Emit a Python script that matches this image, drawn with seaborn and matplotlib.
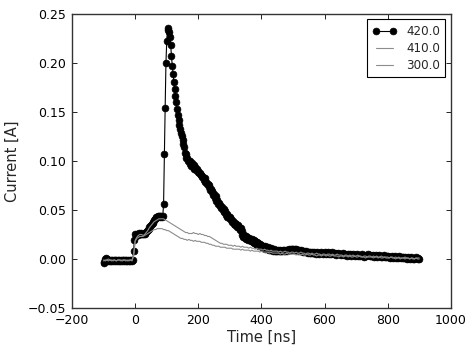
import numpy as np
import pandas as pd
import matplotlib
matplotlib.use("Agg")
import matplotlib.pyplot as plt
import seaborn as sns

# Sampling grids [ns]
time_fine = np.arange(-100, 900.1, 2.5)    # 420.0 trace
time_coarse = np.arange(-100, 900.1, 5.0)  # 410.0 and 300.0 traces

# Current [A], 420.0 (rows of 20 samples = 50 ns, first row starts at -100 ns)
current_420 = [
    -0.004, -0.003, 0.000, 0.001, 0.000, -0.001, -0.002, -0.001, -0.002, -0.001,
    -0.002, -0.001, -0.002, -0.001, -0.001, -0.002, -0.001, -0.002, -0.001, -0.002,
    -0.001, -0.002, -0.001, -0.002, -0.001, -0.001, -0.002, -0.001, -0.002, -0.001,
    -0.002, -0.001, -0.002, -0.001, -0.002, -0.001, -0.002, -0.001, 0.008, 0.019,
    0.025, 0.023, 0.025, 0.024, 0.026, 0.027, 0.026, 0.027, 0.026, 0.025,
    0.026, 0.025, 0.026, 0.027, 0.028, 0.029, 0.030, 0.031, 0.033, 0.034,
    0.035, 0.036, 0.037, 0.038, 0.040, 0.041, 0.042, 0.043, 0.043, 0.044,
    0.044, 0.043, 0.044, 0.044, 0.043, 0.044, 0.056, 0.107, 0.154, 0.200,
    0.222, 0.234, 0.236, 0.232, 0.226, 0.218, 0.207, 0.197, 0.189, 0.181,
    0.173, 0.166, 0.160, 0.153, 0.147, 0.142, 0.137, 0.133, 0.129, 0.125,
    0.121, 0.117, 0.114, 0.108, 0.107, 0.103, 0.103, 0.100, 0.100, 0.097,
    0.100, 0.095, 0.098, 0.094, 0.096, 0.092, 0.094, 0.091, 0.092, 0.089,
    0.090, 0.088, 0.088, 0.086, 0.086, 0.084, 0.084, 0.081, 0.083, 0.079,
    0.079, 0.076, 0.077, 0.073, 0.075, 0.070, 0.071, 0.068, 0.069, 0.065,
    0.066, 0.062, 0.064, 0.059, 0.060, 0.056, 0.057, 0.054, 0.055, 0.052,
    0.053, 0.050, 0.051, 0.048, 0.049, 0.045, 0.046, 0.043, 0.044, 0.042,
    0.043, 0.040, 0.041, 0.038, 0.039, 0.036, 0.037, 0.035, 0.036, 0.033,
    0.035, 0.032, 0.033, 0.030, 0.032, 0.029, 0.024, 0.022, 0.024, 0.021,
    0.023, 0.020, 0.022, 0.019, 0.021, 0.019, 0.020, 0.018, 0.020, 0.017,
    0.019, 0.016, 0.018, 0.015, 0.017, 0.014, 0.016, 0.013, 0.015, 0.013,
    0.014, 0.012, 0.013, 0.011, 0.013, 0.010, 0.012, 0.010, 0.012, 0.009,
    0.011, 0.009, 0.011, 0.009, 0.010, 0.008, 0.010, 0.008, 0.009, 0.008,
    0.008, 0.009, 0.008, 0.008, 0.009, 0.008, 0.008, 0.009, 0.008, 0.009,
    0.008, 0.009, 0.009, 0.008, 0.009, 0.010, 0.009, 0.010, 0.009, 0.010,
    0.010, 0.009, 0.010, 0.009, 0.010, 0.009, 0.009, 0.008, 0.009, 0.008,
    0.009, 0.008, 0.008, 0.007, 0.008, 0.007, 0.008, 0.007, 0.007, 0.006,
    0.007, 0.006, 0.007, 0.006, 0.007, 0.006, 0.006, 0.007, 0.006, 0.005,
    0.006, 0.007, 0.006, 0.005, 0.006, 0.007, 0.006, 0.006, 0.005, 0.006,
    0.007, 0.006, 0.005, 0.006, 0.007, 0.006, 0.005, 0.006, 0.005, 0.006,
    0.007, 0.006, 0.005, 0.006, 0.005, 0.004, 0.005, 0.006, 0.005, 0.005,
    0.005, 0.004, 0.005, 0.006, 0.005, 0.004, 0.005, 0.004, 0.003, 0.004,
    0.005, 0.004, 0.005, 0.004, 0.003, 0.004, 0.005, 0.004, 0.004, 0.003,
    0.004, 0.005, 0.004, 0.003, 0.004, 0.003, 0.004, 0.005, 0.004, 0.003,
    0.002, 0.003, 0.004, 0.003, 0.004, 0.005, 0.004, 0.003, 0.004, 0.003,
    0.003, 0.004, 0.003, 0.002, 0.003, 0.004, 0.003, 0.002, 0.003, 0.004,
    0.003, 0.002, 0.003, 0.002, 0.003, 0.004, 0.003, 0.002, 0.002, 0.003,
    0.002, 0.003, 0.002, 0.001, 0.002, 0.003, 0.002, 0.001, 0.002, 0.003,
    0.002, 0.001, 0.002, 0.001, 0.002, 0.003, 0.002, 0.001, 0.002, 0.001,
    0.002, 0.001, 0.002, 0.001, 0.000, 0.001, 0.002, 0.001, 0.000, 0.001,
    0.002, 0.001, 0.000, 0.001, 0.000, 0.001, 0.002, 0.001, 0.000, 0.001,
    0.000,
]

# Current [A], 410.0 (rows of 10 samples = 50 ns)
current_410 = [
    -0.001, -0.002, -0.001, 0.000, -0.001, -0.002, -0.001, -0.001, -0.002, -0.001,
    -0.001, -0.002, -0.001, -0.001, -0.002, -0.001, -0.002, -0.001, -0.001, 0.004,
    0.019, 0.022, 0.024, 0.025, 0.025, 0.024, 0.025, 0.027, 0.029, 0.032,
    0.034, 0.036, 0.038, 0.039, 0.040, 0.041, 0.041, 0.041, 0.041, 0.040,
    0.039, 0.038, 0.037, 0.036, 0.035, 0.034, 0.033, 0.032, 0.031, 0.030,
    0.029, 0.028, 0.027, 0.027, 0.026, 0.026, 0.026, 0.027, 0.026, 0.026,
    0.025, 0.026, 0.025, 0.025, 0.024, 0.024, 0.023, 0.023, 0.022, 0.021,
    0.020, 0.019, 0.018, 0.017, 0.016, 0.016, 0.015, 0.015, 0.015, 0.014,
    0.014, 0.014, 0.013, 0.014, 0.013, 0.013, 0.013, 0.012, 0.013, 0.012,
    0.012, 0.012, 0.011, 0.012, 0.011, 0.011, 0.010, 0.011, 0.010, 0.010,
    0.010, 0.009, 0.010, 0.009, 0.009, 0.008, 0.009, 0.008, 0.008, 0.008,
    0.008, 0.007, 0.008, 0.007, 0.007, 0.008, 0.007, 0.007, 0.006, 0.007,
    0.007, 0.006, 0.007, 0.006, 0.006, 0.007, 0.006, 0.006, 0.005, 0.006,
    0.006, 0.005, 0.006, 0.005, 0.005, 0.006, 0.005, 0.005, 0.004, 0.005,
    0.005, 0.004, 0.005, 0.005, 0.004, 0.005, 0.004, 0.004, 0.005, 0.004,
    0.004, 0.004, 0.003, 0.004, 0.004, 0.003, 0.004, 0.003, 0.004, 0.003,
    0.003, 0.004, 0.003, 0.003, 0.002, 0.003, 0.003, 0.002, 0.003, 0.003,
    0.002, 0.003, 0.002, 0.003, 0.002, 0.002, 0.003, 0.002, 0.002, 0.002,
    0.002, 0.001, 0.002, 0.002, 0.001, 0.002, 0.001, 0.002, 0.001, 0.001,
    0.001, 0.002, 0.001, 0.001, 0.000, 0.001, 0.001, 0.000, 0.001, 0.001,
    0.001,
]

# Current [A], 300.0 (rows of 10 samples = 50 ns)
current_300 = [
    -0.002, -0.001, -0.001, -0.002, -0.001, -0.001, -0.002, -0.001, -0.002, -0.001,
    -0.001, -0.001, -0.002, -0.001, -0.001, -0.002, -0.001, -0.001, -0.002, 0.003,
    0.018, 0.021, 0.022, 0.023, 0.023, 0.023, 0.024, 0.025, 0.026, 0.027,
    0.028, 0.029, 0.030, 0.030, 0.031, 0.031, 0.031, 0.031, 0.030, 0.030,
    0.029, 0.029, 0.028, 0.027, 0.026, 0.025, 0.024, 0.023, 0.022, 0.021,
    0.021, 0.020, 0.020, 0.019, 0.020, 0.019, 0.019, 0.018, 0.019, 0.018,
    0.018, 0.018, 0.017, 0.017, 0.017, 0.016, 0.016, 0.015, 0.015, 0.014,
    0.014, 0.013, 0.013, 0.013, 0.012, 0.012, 0.012, 0.012, 0.011, 0.011,
    0.011, 0.011, 0.010, 0.010, 0.010, 0.010, 0.010, 0.009, 0.010, 0.009,
    0.009, 0.009, 0.009, 0.008, 0.009, 0.008, 0.008, 0.008, 0.008, 0.007,
    0.008, 0.007, 0.007, 0.007, 0.007, 0.006, 0.007, 0.006, 0.006, 0.006,
    0.006, 0.006, 0.005, 0.006, 0.005, 0.005, 0.006, 0.005, 0.005, 0.005,
    0.005, 0.005, 0.004, 0.005, 0.005, 0.004, 0.005, 0.004, 0.004, 0.005,
    0.004, 0.004, 0.005, 0.004, 0.004, 0.003, 0.004, 0.004, 0.003, 0.004,
    0.004, 0.003, 0.004, 0.003, 0.003, 0.004, 0.003, 0.003, 0.003, 0.002,
    0.003, 0.003, 0.002, 0.003, 0.003, 0.002, 0.003, 0.002, 0.002, 0.003,
    0.002, 0.002, 0.003, 0.002, 0.002, 0.002, 0.001, 0.002, 0.002, 0.002,
    0.002, 0.001, 0.002, 0.002, 0.001, 0.002, 0.001, 0.001, 0.002, 0.001,
    0.001, 0.001, 0.002, 0.001, 0.001, 0.000, 0.001, 0.001, 0.000, 0.001,
    0.001, 0.000, 0.001, 0.001, 0.000, 0.001, 0.000, 0.000, 0.001, 0.000,
    0.000,
]

series_labels = ["420.0", "410.0", "300.0"]
x_ticks = [-200, 0, 200, 400, 600, 800, 1000]
y_ticks = [-0.05, 0.00, 0.05, 0.10, 0.15, 0.20, 0.25]

sns.set_style("ticks")
plt.rcParams["font.family"] = ["DejaVu Sans"]

fig = plt.figure(figsize=(4.74, 3.49), dpi=100)
ax = fig.add_axes([0.152, 0.1175, 0.799, 0.8425])

df420 = pd.DataFrame({"t": time_fine, "i": current_420})
df410 = pd.DataFrame({"t": time_coarse, "i": current_410})
df300 = pd.DataFrame({"t": time_coarse, "i": current_300})

sns.lineplot(data=df420, x="t", y="i", ax=ax, estimator=None, sort=False,
             color="black", linewidth=0.8, marker="o", markersize=4.9,
             markeredgecolor="black", markeredgewidth=0.5, label=series_labels[0])
sns.lineplot(data=df410, x="t", y="i", ax=ax, estimator=None, sort=False,
             color="#8c8c8c", linewidth=0.8, label=series_labels[1])
sns.lineplot(data=df300, x="t", y="i", ax=ax, estimator=None, sort=False,
             color="#8c8c8c", linewidth=0.8, label=series_labels[2])

ax.set_xlim(-200, 1000)
ax.set_ylim(-0.05, 0.25)
ax.set_xticks(x_ticks)
ax.set_yticks(y_ticks)
ax.set_yticklabels([f"{v:.2f}".replace("-", "\u2212") for v in y_ticks])
ax.set_xticklabels([str(v).replace("-", "\u2212") for v in x_ticks])

ax.tick_params(direction="in", top=True, right=True, length=3.5, width=0.6,
               colors="black", labelsize=9, pad=4)
for s in ax.spines.values():
    s.set_color("#333333")
    s.set_linewidth(1.0)

ax.set_xlabel("Time [ns]", fontsize=10.5, labelpad=2)
ax.set_ylabel("Current [A]", fontsize=10.5, labelpad=6)

leg = ax.legend(loc="upper right", numpoints=2, frameon=True, fancybox=False,
                framealpha=1, edgecolor="black", fontsize=8.6, borderaxespad=0.45,
                handlelength=2.0, labelspacing=0.35, borderpad=0.45)
leg.get_frame().set_linewidth(0.8)

fig.savefig("out.png", dpi=100)
